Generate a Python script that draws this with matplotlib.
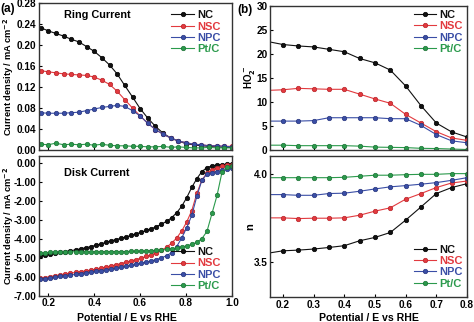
import matplotlib
matplotlib.use("Agg")
import matplotlib.pyplot as plt
from matplotlib.ticker import FormatStrFormatter

plt.rcParams['font.family'] = ['Liberation Sans', 'DejaVu Sans']
plt.rcParams['font.weight'] = 'bold'
plt.rcParams['axes.labelweight'] = 'bold'
plt.rcParams['mathtext.default'] = 'bf'

names = ['NC', 'NSC', 'NPC', 'Pt/C']
colors = ['#111111', '#e23a3f', '#3a4ea6', '#2b9a4c']
edges = ['#000000', '#b82228', '#26347c', '#1d7236']

# ring current (mA cm-2)
ring_E = [0.167, 0.2, 0.233, 0.267, 0.3, 0.333, 0.367, 0.4, 0.433, 0.467, 0.5, 0.533, 0.567,
          0.6, 0.633, 0.667, 0.7, 0.733, 0.767, 0.8, 0.833, 0.867, 0.9, 0.933, 0.967, 1.0]
ring_nc = [0.233, 0.227, 0.222, 0.217, 0.211, 0.206, 0.197, 0.188, 0.176, 0.162, 0.145, 0.123, 0.101,
           0.079, 0.061, 0.045, 0.032, 0.023, 0.017, 0.012, 0.010, 0.008, 0.007, 0.006, 0.005, 0.005]
ring_nsc = [0.151, 0.149, 0.147, 0.145, 0.144, 0.143, 0.142, 0.139, 0.133, 0.125, 0.112, 0.096, 0.080,
            0.065, 0.051, 0.039, 0.030, 0.023, 0.017, 0.014, 0.011, 0.010, 0.008, 0.008, 0.007, 0.007]
ring_npc = [0.071, 0.070, 0.070, 0.070, 0.071, 0.072, 0.075, 0.078, 0.081, 0.083, 0.085, 0.083, 0.075,
            0.065, 0.051, 0.039, 0.030, 0.023, 0.017, 0.014, 0.011, 0.010, 0.008, 0.008, 0.007, 0.006]
ring_ptc = [0.011, 0.010, 0.013, 0.010, 0.011, 0.010, 0.011, 0.009, 0.011, 0.009, 0.008, 0.008, 0.007,
            0.007, 0.006, 0.006, 0.007, 0.005, 0.006, 0.005, 0.004, 0.004, 0.005, 0.004, 0.004, 0.004]

# disk current (mA cm-2)
disk_E = [0.165, 0.187, 0.209, 0.231, 0.253, 0.275, 0.297, 0.319, 0.341, 0.363, 0.385, 0.407, 0.429,
          0.451, 0.473, 0.495, 0.517, 0.539, 0.561, 0.583, 0.605, 0.627, 0.649, 0.671, 0.693, 0.715,
          0.737, 0.759, 0.781, 0.803, 0.825, 0.847, 0.869, 0.891, 0.913, 0.935, 0.957, 0.979, 1.0]
disk_nc = [-4.90, -4.84, -4.79, -4.74, -4.70, -4.66, -4.62, -4.57, -4.52, -4.46, -4.40, -4.33, -4.26,
           -4.18, -4.10, -4.03, -3.96, -3.89, -3.81, -3.73, -3.64, -3.55, -3.46, -3.35, -3.22, -3.07,
           -2.88, -2.62, -2.28, -1.82, -1.28, -0.82, -0.45, -0.24, -0.15, -0.10, -0.08, -0.06, -0.06]
disk_nsc = [-6.05, -6.03, -5.98, -5.93, -5.88, -5.84, -5.80, -5.76, -5.72, -5.68, -5.64, -5.59, -5.54,
            -5.48, -5.42, -5.36, -5.29, -5.22, -5.15, -5.08, -5.00, -4.92, -4.83, -4.73, -4.60, -4.43,
            -4.22, -3.95, -3.58, -3.10, -2.50, -1.60, -0.90, -0.52, -0.35, -0.25, -0.18, -0.13, -0.10]
disk_npc = [-6.08, -6.08, -6.05, -6.01, -5.97, -5.93, -5.90, -5.86, -5.82, -5.78, -5.75, -5.71, -5.67,
            -5.63, -5.58, -5.54, -5.49, -5.44, -5.39, -5.34, -5.28, -5.22, -5.16, -5.08, -4.99, -4.88,
            -4.72, -4.40, -3.95, -3.40, -2.75, -1.75, -0.90, -0.58, -0.50, -0.45, -0.37, -0.30, -0.25]
disk_ptc = [-4.75, -4.72, -4.70, -4.69, -4.68, -4.67, -4.67, -4.67, -4.67, -4.67, -4.67, -4.67, -4.67,
            -4.66, -4.66, -4.66, -4.66, -4.66, -4.65, -4.65, -4.64, -4.63, -4.62, -4.60, -4.58, -4.55,
            -4.51, -4.47, -4.42, -4.36, -4.28, -4.17, -3.98, -3.60, -2.65, -1.70, -0.45, -0.22, -0.18]

# peroxide yield (%) and electron transfer number
rrde_E = [0.16, 0.2, 0.25, 0.3, 0.35, 0.4, 0.45, 0.5, 0.55, 0.6, 0.65, 0.7, 0.75, 0.8]
ho2_nc = [22.4, 21.9, 21.6, 21.4, 20.9, 20.4, 19.0, 18.1, 16.6, 13.3, 9.2, 5.6, 3.75, 2.7]
ho2_nsc = [12.4, 12.5, 12.8, 12.7, 12.6, 12.6, 11.6, 10.6, 9.7, 7.4, 5.6, 3.8, 2.5, 2.0]
ho2_npc = [6.0, 6.0, 6.0, 6.1, 6.7, 6.7, 6.7, 6.7, 6.5, 6.5, 5.1, 3.2, 1.9, 1.5]
ho2_ptc = [1.0, 1.0, 0.9, 0.9, 0.9, 0.9, 0.8, 0.6, 0.55, 0.5, 0.35, 0.3, 0.2, 0.1]
n_nc = [3.551, 3.562, 3.566, 3.572, 3.581, 3.591, 3.619, 3.638, 3.666, 3.736, 3.811, 3.887, 3.921, 3.943]
n_nsc = [3.749, 3.749, 3.745, 3.747, 3.747, 3.749, 3.764, 3.787, 3.806, 3.855, 3.887, 3.921, 3.947, 3.958]
n_npc = [3.881, 3.881, 3.877, 3.877, 3.887, 3.889, 3.900, 3.913, 3.925, 3.932, 3.940, 3.949, 3.962, 3.977]
n_ptc = [3.977, 3.977, 3.977, 3.977, 3.977, 3.979, 3.985, 3.991, 3.991, 3.994, 3.996, 3.996, 4.0, 4.0]

fig = plt.figure(figsize=(4.74, 3.22), dpi=100)
W, H = 474, 322


def box(x0, x1, y0, y1):
    return [x0 / W, 1 - y1 / H, (x1 - x0) / W, (y1 - y0) / H]


ax_ring = fig.add_axes(box(39, 232, 3, 150))
ax_disk = fig.add_axes(box(39, 232, 156, 296))
ax_ho2 = fig.add_axes(box(270, 467, 5.5, 150))
ax_n = fig.add_axes(box(270, 467, 156, 297))

fs = 7.2


def draw(ax, x, series, mark_from=0):
    for y, name, c, ec in zip(series, names, colors, edges):
        ax.plot(x, y, '-', color=c, lw=0.8, marker='o', ms=3.2, mfc=c, mec=ec, mew=0.5,
                label=name, markevery=slice(mark_from, None))


def legend(ax, loc, anchor):
    leg = ax.legend(loc=loc, bbox_to_anchor=anchor, frameon=False, fontsize=8,
                    handlelength=2.0, handletextpad=0.3, labelspacing=0.12, borderpad=0,
                    borderaxespad=0)
    for t, c in zip(leg.get_texts(), colors):
        t.set_color(c)
        t.set_fontweight('bold')


def style(ax):
    ax.tick_params(direction='in', labelsize=fs, width=0.8, length=2.5, pad=1.8)
    for s in ax.spines.values():
        s.set_linewidth(1.0)
        s.set_color('#333333')
    for lab in ax.get_xticklabels() + ax.get_yticklabels():
        lab.set_fontweight('bold')


draw(ax_ring, ring_E, [ring_nc, ring_nsc, ring_npc, ring_ptc])
ax_ring.set_xlim(0.16, 1.0)
ax_ring.set_ylim(0, 0.28)
ax_ring.set_yticks([0, 0.04, 0.08, 0.12, 0.16, 0.20, 0.24, 0.28])
ax_ring.yaxis.set_major_formatter(FormatStrFormatter('%.2f'))
ax_ring.set_xticks([0.2, 0.4, 0.6, 0.8, 1.0])
ax_ring.tick_params(labelbottom=False)
ax_ring.set_ylabel('Current density / mA cm$^{-2}$', fontsize=6.7)
ax_ring.yaxis.set_label_coords(-0.121, 0.5)
ax_ring.text(0.13, 0.92, 'Ring Current', transform=ax_ring.transAxes, fontsize=7.8,
             fontweight='bold', va='center')
legend(ax_ring, 'upper right', (0.94, 0.95))
style(ax_ring)

draw(ax_disk, disk_E, [disk_nc, disk_nsc, disk_npc, disk_ptc])
ax_disk.set_xlim(0.16, 1.0)
ax_disk.set_ylim(-7, 0.37)
ax_disk.set_yticks([-7, -6, -5, -4, -3, -2, -1, 0])
ax_disk.yaxis.set_major_formatter(FormatStrFormatter('%.2f'))
ax_disk.set_xticks([0.2, 0.4, 0.6, 0.8, 1.0])
ax_disk.set_ylabel('Current density / mA cm$^{-2}$', fontsize=6.7)
ax_disk.yaxis.set_label_coords(-0.121, 0.5)
ax_disk.set_xlabel('Potential / E vs RHE', fontsize=7.6)
ax_disk.xaxis.set_label_coords(0.456, -0.118)
ax_disk.text(0.13, 0.88, 'Disk Current', transform=ax_disk.transAxes, fontsize=7.8,
             fontweight='bold', va='center')
legend(ax_disk, 'lower right', (0.94, 0.035))
style(ax_disk)

draw(ax_ho2, rrde_E, [ho2_nc, ho2_nsc, ho2_npc, ho2_ptc], mark_from=1)
ax_ho2.set_xlim(0.158, 0.8)
ax_ho2.set_ylim(0, 30)
ax_ho2.set_yticks([0, 5, 10, 15, 20, 25, 30])
ax_ho2.set_xticks([0.2, 0.3, 0.4, 0.5, 0.6, 0.7, 0.8])
ax_ho2.tick_params(labelbottom=False)
ax_ho2.set_ylabel('HO$_2^-$', fontsize=7)
ax_ho2.yaxis.set_label_coords(-0.066, 0.5)
legend(ax_ho2, 'upper right', (0.98, 0.97))
style(ax_ho2)

draw(ax_n, rrde_E, [n_nc, n_nsc, n_npc, n_ptc], mark_from=1)
ax_n.set_xlim(0.158, 0.8)
ax_n.set_ylim(3.3, 4.1)
ax_n.set_yticks([3.5, 4.0])
ax_n.set_xticks([0.2, 0.3, 0.4, 0.5, 0.6, 0.7, 0.8])
ax_n.set_ylabel('n', fontsize=8)
ax_n.yaxis.set_label_coords(-0.076, 0.5)
ax_n.set_xlabel('Potential / E vs RHE', fontsize=7.6)
ax_n.xaxis.set_label_coords(0.503, -0.112)
legend(ax_n, 'lower right', (0.98, 0.06))
style(ax_n)

fig.text(0 / W, 1 - 9 / H, '(a)', fontsize=8.5, fontweight='bold', va='center', ha='left')
fig.text(237 / W, 1 - 10 / H, '(b)', fontsize=8.5, fontweight='bold', va='center', ha='left')

fig.savefig('out.png', dpi=100)
